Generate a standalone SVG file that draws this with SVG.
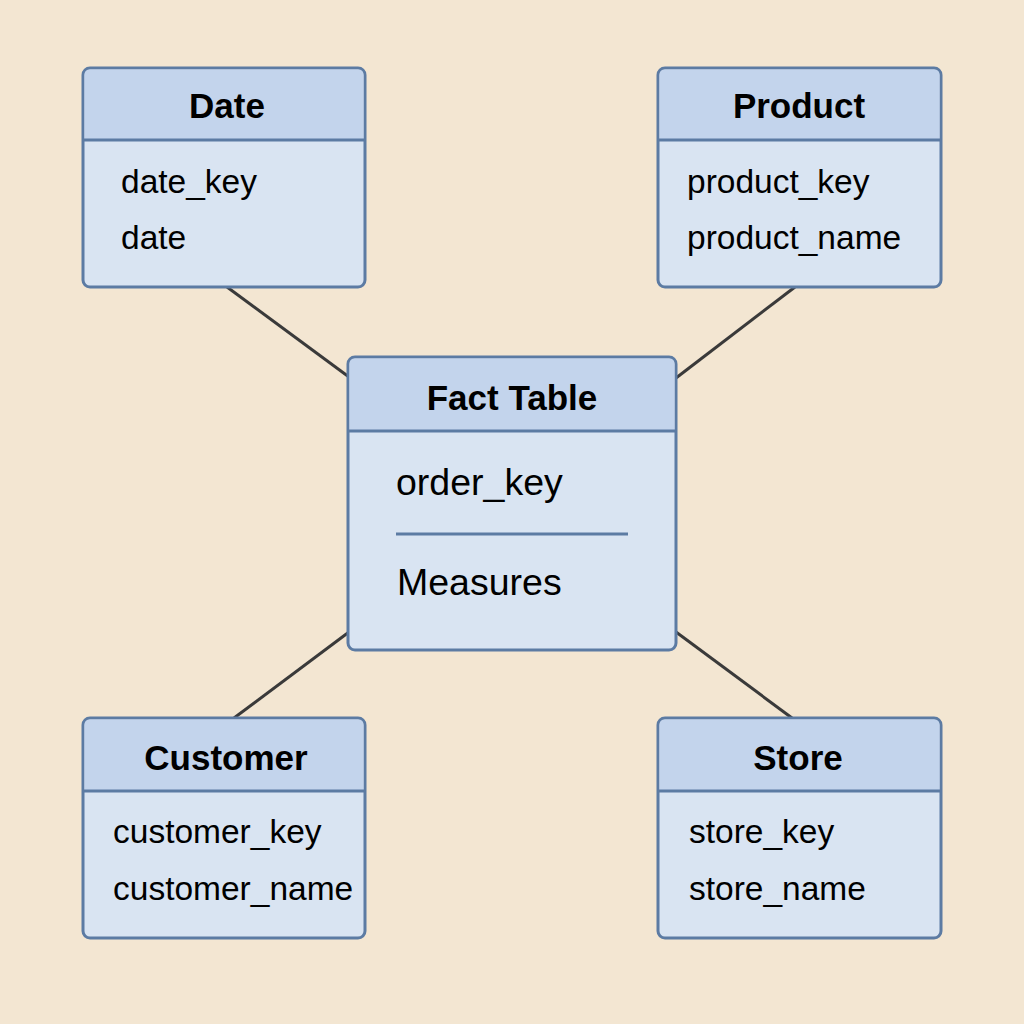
<svg xmlns="http://www.w3.org/2000/svg" width="1024" height="1024" viewBox="0 0 1024 1024">
<style>
.box{fill:#d9e4f2;stroke:#5c7ba3;stroke-width:3}
.hdr{fill:#c3d4ec}
.sep{stroke:#5c7ba3;stroke-width:3}
.title{font-family:"Liberation Sans",Arial,sans-serif;font-weight:bold;font-size:35px;fill:#000;text-anchor:middle}
.field{font-family:"Liberation Sans",Arial,sans-serif;font-size:33.5px;fill:#000}
.big{font-family:"Liberation Sans",Arial,sans-serif;font-size:37.5px;fill:#000}
.conn{stroke:#3a3a3a;stroke-width:3;fill:none}
</style>
<rect width="1024" height="1024" fill="#f3e6d2"/>
<g id="connectors">
<line class="conn" x1="227" y1="287" x2="349" y2="377"/>
<line class="conn" x1="795" y1="287" x2="676" y2="378"/>
<line class="conn" x1="234" y1="718" x2="349" y2="632"/>
<line class="conn" x1="792" y1="718" x2="676" y2="632"/>
</g>
<g id="date">
<rect class="box" x="83" y="68" width="282" height="219" rx="7"/>
<path class="hdr" d="M90,69.5 H358 Q363.5,69.5 363.5,75 V140 H84.5 V75 Q84.5,69.5 90,69.5 Z"/>
<line class="sep" x1="84" y1="140" x2="364" y2="140"/>
<text class="title" x="227" y="118">Date</text>
<text class="field" x="121" y="193">date_key</text>
<text class="field" x="121" y="249">date</text>
</g>
<g id="product">
<rect class="box" x="658" y="68" width="283" height="219" rx="7"/>
<path class="hdr" d="M665,69.5 H934 Q939.5,69.5 939.5,75 V140 H659.5 V75 Q659.5,69.5 665,69.5 Z"/>
<line class="sep" x1="659" y1="140" x2="940" y2="140"/>
<text class="title" x="799" y="118">Product</text>
<text class="field" x="687" y="193">product_key</text>
<text class="field" x="687" y="249">product_name</text>
</g>
<g id="fact">
<rect class="box" x="348" y="357" width="328" height="293" rx="7"/>
<path class="hdr" d="M355,358.5 H669 Q674.5,358.5 674.5,364 V431 H349.5 V364 Q349.5,358.5 355,358.5 Z"/>
<line class="sep" x1="349" y1="431" x2="675" y2="431"/>
<text class="title" x="512" y="410">Fact Table</text>
<text class="big" x="396" y="495">order_key</text>
<line class="sep" x1="396" y1="534" x2="628" y2="534"/>
<text class="big" x="397" y="595">Measures</text>
</g>
<g id="customer">
<rect class="box" x="83" y="718" width="282" height="220" rx="7"/>
<path class="hdr" d="M90,719.5 H358 Q363.5,719.5 363.5,725 V791 H84.5 V725 Q84.5,719.5 90,719.5 Z"/>
<line class="sep" x1="84" y1="791" x2="364" y2="791"/>
<text class="title" x="226" y="770">Customer</text>
<text class="field" x="113" y="843">customer_key</text>
<text class="field" x="113" y="900">customer_name</text>
</g>
<g id="store">
<rect class="box" x="658" y="718" width="283" height="220" rx="7"/>
<path class="hdr" d="M665,719.5 H934 Q939.5,719.5 939.5,725 V791 H659.5 V725 Q659.5,719.5 665,719.5 Z"/>
<line class="sep" x1="659" y1="791" x2="940" y2="791"/>
<text class="title" x="798" y="770">Store</text>
<text class="field" x="689" y="843">store_key</text>
<text class="field" x="689" y="900">store_name</text>
</g>
</svg>
